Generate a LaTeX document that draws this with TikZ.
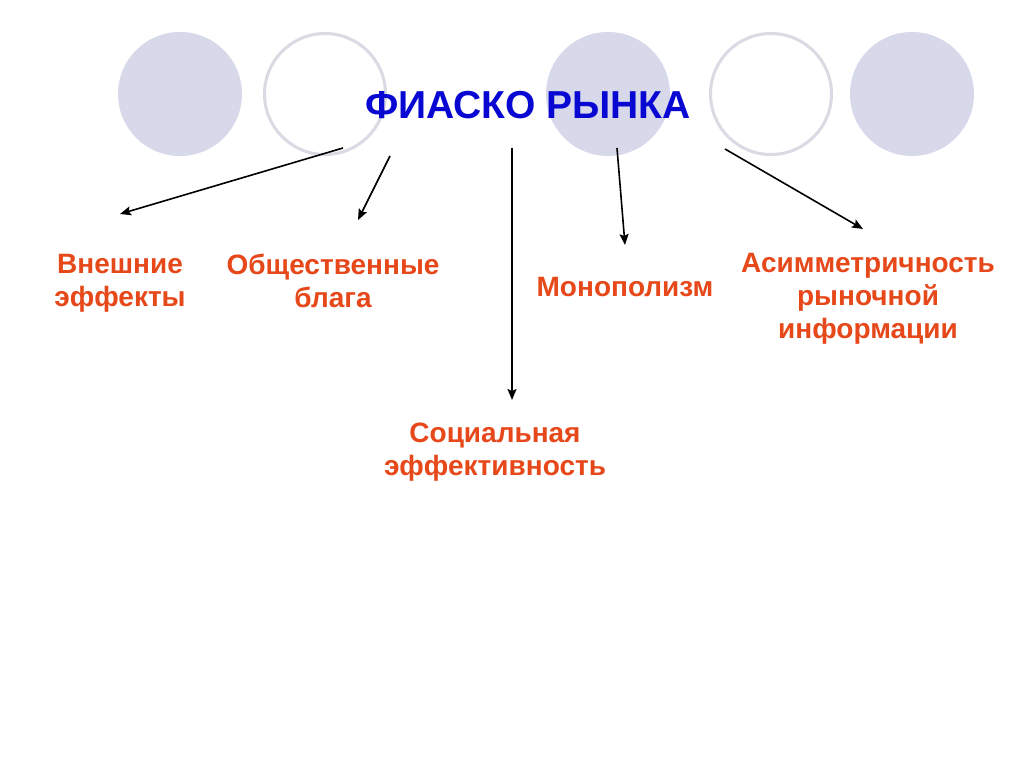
\documentclass[tikz,border=0pt]{standalone}
\usepackage{fontspec}
\setmainfont{Liberation Sans}
\usetikzlibrary{arrows.meta}
\definecolor{circfill}{RGB}{215,217,235}
\definecolor{circline}{RGB}{218,218,228}
\definecolor{titleblue}{RGB}{8,8,210}
\definecolor{lblorange}{RGB}{230,72,26}
\begin{document}
\begin{tikzpicture}[x=1pt,y=-1pt,
  fcirc/.style={circle,fill=circfill,draw=none,minimum size=124pt,inner sep=0pt},
  ocirc/.style={circle,fill=white,draw=circline,line width=3pt,minimum size=121pt,inner sep=0pt},
  lbl/.style={text=lblorange,font=\bfseries\fontsize{28}{33}\selectfont,align=center,inner sep=0pt},
  arr/.style={-{Stealth[length=11pt,width=9pt,inset=2pt]},line width=1.6pt,black}]
\useasboundingbox[fill=white] (0,0) rectangle (1024,767);
\node[fcirc] (c1) at (180,94) {};
\node[ocirc] (c2) at (325,94) {};
\node[fcirc] (c3) at (608,94) {};
\node[ocirc] (c4) at (771,94) {};
\node[fcirc] (c5) at (912,94) {};
\node[text=titleblue,font=\bfseries\fontsize{39}{44}\selectfont,anchor=base,inner sep=0pt] (title) at (528,119) {ФИАСКО РЫНКА};
\node[lbl] (ext) at (120,283) {Внешние\\эффекты};
\node[lbl] (pub) at (333,281) {Общественные\\блага};
\node[lbl] (mon) at (625,287) {Монополизм};
\node[lbl] (asy) at (868,299) {Асимметричность\\рыночной\\информации};
\node[lbl] (soc) at (495,452) {Социальная\\эффективность};
\coordinate (s1) at (343,148); \coordinate (e1) at (120,214);
\coordinate (s2) at (390,156); \coordinate (e2) at (358,220);
\coordinate (s3) at (512,148); \coordinate (e3) at (512,400);
\coordinate (s4) at (617,148); \coordinate (e4) at (625,245);
\coordinate (s5) at (725,149); \coordinate (e5) at (863,229);
\draw[arr] (s1) -- (e1);
\draw[arr] (s2) -- (e2);
\draw[arr] (s3) -- (e3);
\draw[arr] (s4) -- (e4);
\draw[arr] (s5) -- (e5);
\end{tikzpicture}
\end{document}
